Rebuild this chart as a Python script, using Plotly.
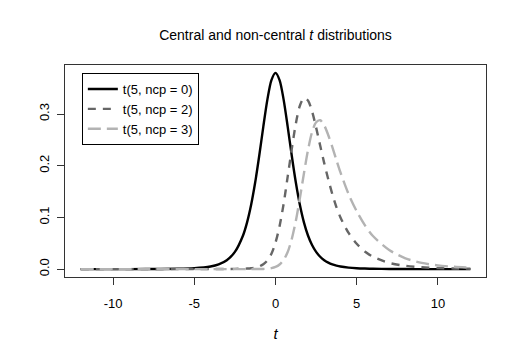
import plotly.graph_objects as go

# x grid and densities
x_vals = [-12, -10, -8, -6, -5, -4, -3.5, -3, -2.5, -2, -1.75, -1.5, -1.25, -1,
          -0.75, -0.5, -0.25, 0, 0.25, 0.5, 0.75, 1, 1.25, 1.5, 1.75, 2, 2.25,
          2.5, 2.75, 3, 3.25, 3.5, 3.75, 4, 4.5, 5, 5.5, 6, 7, 8, 9, 10, 11, 12]

dens_ncp0 = [0.00001, 0.00004, 0.00015, 0.0007, 0.0018, 0.0051, 0.0092, 0.0173,
             0.0333, 0.0651, 0.0905, 0.1245, 0.1679, 0.2197, 0.2757, 0.3279,
             0.3657, 0.3796, 0.3657, 0.3279, 0.2757, 0.2197, 0.1679, 0.1245,
             0.0905, 0.0651, 0.0466, 0.0333, 0.0240, 0.0173, 0.0126, 0.0092,
             0.0069, 0.0051, 0.0030, 0.0018, 0.0011, 0.0007, 0.0003, 0.00015,
             0.00008, 0.00004, 0.00002, 0.00001]

dens_ncp2 = [0.0, 0.0, 0.00001, 0.00003, 0.00005, 0.0001, 0.0002, 0.0003,
             0.0005, 0.0008, 0.0011, 0.0017, 0.0030, 0.0052, 0.0095, 0.0168,
             0.0299, 0.0514, 0.0830, 0.1262, 0.1788, 0.2320, 0.2810, 0.3160,
             0.3310, 0.3260, 0.3050, 0.2740, 0.2390, 0.2050, 0.1735, 0.1448,
             0.1200, 0.1000, 0.0700, 0.0490, 0.0340, 0.0240, 0.0120, 0.0065,
             0.0036, 0.0021, 0.0013, 0.0008]

dens_ncp3 = [0.0, 0.0, 0.0, 0.00001, 0.00001, 0.00002, 0.00003, 0.00004,
             0.00006, 0.0001, 0.0001, 0.0001, 0.0002, 0.0002, 0.0004, 0.0009,
             0.0019, 0.0042, 0.0089, 0.0179, 0.0330, 0.0580, 0.0930, 0.1370,
             0.1850, 0.2300, 0.2650, 0.2840, 0.2880, 0.2780, 0.2590, 0.2360,
             0.2110, 0.1870, 0.1450, 0.1120, 0.0850, 0.0640, 0.0370, 0.0210,
             0.0120, 0.0072, 0.0045, 0.0028]

series_names = ["t(5, ncp = 0)", "t(5, ncp = 2)", "t(5, ncp = 3)"]
x_ticks = [-10, -5, 0, 5, 10]
x_tick_text = ["-10", "-5", "0", "5", "10"]
y_ticks = [0.0, 0.1, 0.2, 0.3]
y_tick_text = ["0.0", "0.1", "0.2", "0.3"]

FONT = "Liberation Sans, Arial, sans-serif"

# the page body has an 8px margin, so the figure is 8px smaller and margins shifted
W, H = 512, 352

fig = go.Figure()
styles = [
    dict(color="#000000", width=2.4, dash="solid"),
    dict(color="#666666", width=2.4, dash="8px,7px"),
    dict(color="#b3b3b3", width=2.4, dash="13px,6px"),
]
for name, ys, st in zip(series_names, [dens_ncp0, dens_ncp2, dens_ncp3], styles):
    fig.add_trace(go.Scatter(x=x_vals, y=ys, mode="lines", name=name,
                             line=dict(shape="spline", smoothing=0.8, **st)))

fig.update_layout(
    width=W, height=H,
    margin=dict(l=57, r=34, t=57, b=83, autoexpand=False),
    paper_bgcolor="white", plot_bgcolor="white",
    font=dict(family=FONT, size=13, color="black"),
    title=dict(text="Central and non-central <i>t</i> distributions",
               x=0.5, xref="paper", xanchor="center",
               y=1 - 27 / H, yref="container", yanchor="middle",
               font=dict(size=14, family=FONT, color="black")),
    showlegend=True,
    legend=dict(x=0.04, y=0.962, xanchor="left", yanchor="top",
                bgcolor="white", bordercolor="black", borderwidth=1,
                font=dict(size=13, family=FONT), tracegroupgap=0),
)
fig.update_xaxes(range=[-12.96, 12.96], tickvals=x_ticks, ticktext=x_tick_text,
                 ticks="outside", ticklen=7, automargin=False, ticklabelstandoff=7,
                 tickwidth=1, tickcolor="#333333", showgrid=False, zeroline=False,
                 showline=True, linecolor="#333333", linewidth=1, mirror=True,
                 title=dict(text="<i>t</i>", font=dict(size=15), standoff=18),
                 tickfont=dict(size=13))
fig.update_yaxes(range=[-0.0152, 0.3948], tickvals=y_ticks, ticktext=y_tick_text,
                 ticks="outside", ticklen=7, tickwidth=1, tickcolor="#333333",
                 tickangle=-90, showgrid=False, zeroline=False, automargin=False,
                 ticklabelstandoff=3,
                 showline=True, linecolor="#333333", linewidth=1, mirror=True,
                 tickfont=dict(size=13))

fig.write_html("out.html")
